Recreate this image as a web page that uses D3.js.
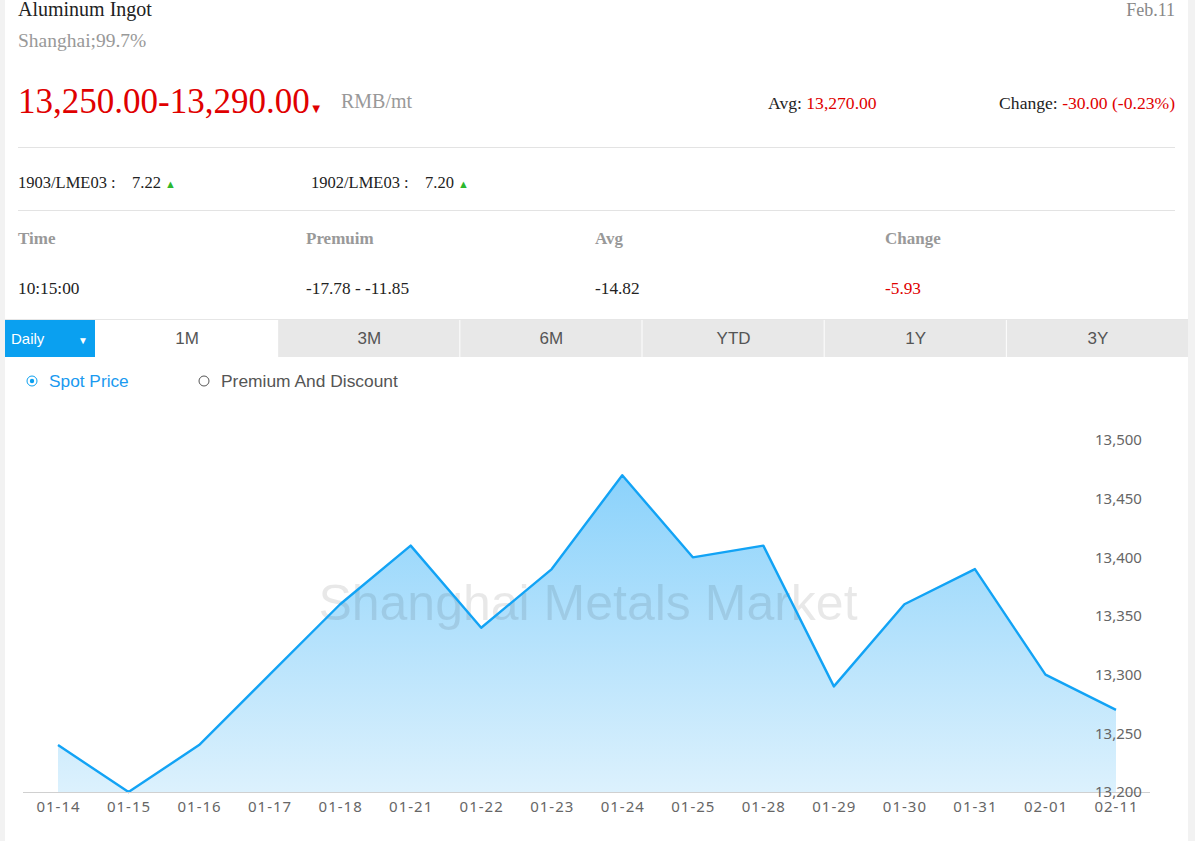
<!DOCTYPE html>
<html lang="en">
<head>
<meta charset="UTF-8">
<title>Aluminum Ingot - Spot Price</title>
<script src="https://cdn.jsdelivr.net/npm/d3@7"></script>
<style>
    html, body { margin: 0; padding: 0; background: #f2f2f2; overflow: hidden; }
    svg { display: block; }
    .serif { font-family: "Liberation Serif", "Times New Roman", serif; }
    .sans { font-family: "Liberation Sans", Arial, sans-serif; }
    .tick text { font-family: "Noto Sans", sans-serif; font-size: 15px; fill: #666; }
</style>
</head>
<body>
<svg id="page"></svg>
<script>
// DATA
const dates  = ["01-14", "01-15", "01-16", "01-17", "01-18", "01-21", "01-22", "01-23",
                "01-24", "01-25", "01-28", "01-29", "01-30", "01-31", "02-01", "02-11"];
const prices = [13240, 13200, 13240, 13300, 13360, 13410, 13340, 13390,
                13470, 13400, 13410, 13290, 13360, 13390, 13300, 13270];
const yTicks = [13200, 13250, 13300, 13350, 13400, 13450, 13500];
const tabs   = ["1M", "3M", "6M", "YTD", "1Y", "3Y"];
const lmeRows = [["1903/LME03 :", "7.22"], ["1902/LME03 :", "7.20"]];
const tableHead = ["Time", "Premuim", "Avg", "Change"];
const tableRow  = ["10:15:00", "-17.78 - -11.85", "-14.82", "-5.93"];

const W = 1195, H = 841;
const RED = "#e00000", BLUE = "#0aa0f0";

const svg = d3.select("#page").attr("width", W).attr("height", H);

// white page panel
svg.append("rect").attr("x", 5).attr("y", 0).attr("width", 1183).attr("height", H).attr("fill", "#fff");

// HEADER
svg.append("text").attr("class", "serif").attr("x", 18).attr("y", 16)
   .attr("font-size", 20).attr("fill", "#222").text("Aluminum Ingot");
svg.append("text").attr("class", "serif").attr("x", 1175).attr("y", 16).attr("text-anchor", "end")
   .attr("font-size", 18).attr("fill", "#888").text("Feb.11");
svg.append("text").attr("class", "serif").attr("x", 18).attr("y", 47)
   .attr("font-size", 19.5).attr("fill", "#999").text("Shanghai;99.7%");

const price = svg.append("text").attr("class", "serif").attr("x", 18).attr("y", 113)
   .attr("font-size", 35).attr("fill", RED);
price.append("tspan").text("13,250.00-13,290.00");
price.append("tspan").attr("font-size", 13).text("▼");
svg.append("text").attr("class", "serif").attr("x", 341).attr("y", 108)
   .attr("font-size", 20).attr("fill", "#999").text("RMB/mt");

const avg = svg.append("text").attr("class", "serif").attr("x", 768).attr("y", 109).attr("font-size", 17.6);
avg.append("tspan").attr("fill", "#222").text("Avg: ");
avg.append("tspan").attr("fill", RED).text("13,270.00");
const chg = svg.append("text").attr("class", "serif").attr("x", 1175).attr("y", 109)
   .attr("text-anchor", "end").attr("font-size", 17.6);
chg.append("tspan").attr("fill", "#222").text("Change: ");
chg.append("tspan").attr("fill", RED).text("-30.00 (-0.23%)");

svg.selectAll("line.sep").data([147, 210]).join("line").attr("class", "sep")
   .attr("x1", 18).attr("x2", 1175).attr("y1", d => d + 0.5).attr("y2", d => d + 0.5)
   .attr("stroke", "#e3e3e3");

// LME rows
const lmeX = [18, 311];
const lme = svg.selectAll("g.lme").data(lmeRows).join("g").attr("class", "lme")
   .attr("transform", (d, i) => `translate(${lmeX[i]},188)`);
lme.append("text").attr("class", "serif").attr("font-size", 16.5).attr("fill", "#222").text(d => d[0]);
const val = lme.append("text").attr("class", "serif").attr("x", 114).attr("font-size", 16.5).attr("fill", "#222");
val.append("tspan").text(d => d[1] + " ");
val.append("tspan").attr("fill", "#2db82d").attr("font-size", 11).text("▲");

// table
const colX = [18, 306, 595, 885];
svg.selectAll("text.th").data(tableHead).join("text").attr("class", "serif th")
   .attr("x", (d, i) => colX[i]).attr("y", 244).attr("font-size", 17).attr("font-weight", "bold")
   .attr("fill", "#999").text(d => d);
svg.selectAll("text.td").data(tableRow).join("text").attr("class", "serif td")
   .attr("x", (d, i) => colX[i]).attr("y", 294).attr("font-size", 17.3)
   .attr("fill", (d, i) => i === 3 ? RED : "#222").text(d => d);

// TABS
svg.append("line").attr("x1", 5).attr("x2", 1188).attr("y1", 319.5).attr("y2", 319.5).attr("stroke", "#e6e6e6");
svg.append("rect").attr("x", 5).attr("y", 320).attr("width", 90).attr("height", 37).attr("fill", BLUE);
svg.append("text").attr("class", "sans").attr("x", 11).attr("y", 344).attr("font-size", 15)
   .attr("fill", "#fff").text("Daily");
svg.append("text").attr("class", "sans").attr("x", 78).attr("y", 344).attr("font-size", 10)
   .attr("fill", "#fff").text("▼");

const tabX = d3.scaleBand().domain(tabs).range([95, 1188]);
const tabG = svg.selectAll("g.tab").data(tabs).join("g").attr("class", "tab")
   .attr("transform", d => `translate(${tabX(d)},320)`);
tabG.append("rect").attr("x", (d, i) => i === 0 ? 0 : 1).attr("width", (d, i) => tabX.bandwidth() - (i === 0 ? 0 : 1))
   .attr("height", 37).attr("fill", (d, i) => i === 0 ? "#fff" : "#e8e8e8");
tabG.append("text").attr("class", "sans").attr("x", tabX.bandwidth() / 2 + 1).attr("y", 24)
   .attr("text-anchor", "middle").attr("font-size", 17).attr("fill", "#555").text(d => d);

// radio buttons
svg.append("circle").attr("cx", 32).attr("cy", 381).attr("r", 5).attr("fill", "none").attr("stroke", BLUE);
svg.append("circle").attr("cx", 32).attr("cy", 381).attr("r", 2.2).attr("fill", BLUE);
svg.append("text").attr("class", "sans").attr("x", 49).attr("y", 387).attr("font-size", 17.3)
   .attr("fill", "#1a9af0").text("Spot Price");
svg.append("circle").attr("cx", 204).attr("cy", 381).attr("r", 5).attr("fill", "none").attr("stroke", "#555");
svg.append("text").attr("class", "sans").attr("x", 221).attr("y", 387).attr("font-size", 17.4)
   .attr("fill", "#555").text("Premium And Discount");

// CHART
const x = d3.scalePoint().domain(dates).range([58, 1116]);
const y = d3.scaleLinear().domain([13200, 13500]).range([792, 440]);

const grad = svg.append("defs").append("linearGradient").attr("id", "fillGrad")
   .attr("x1", 0).attr("y1", 0).attr("x2", 0).attr("y2", 1);
grad.append("stop").attr("offset", "0%").attr("stop-color", "#8bd2fb");
grad.append("stop").attr("offset", "100%").attr("stop-color", "#dcf1fd");

const pts = dates.map((d, i) => [d, prices[i]]);

svg.append("path").datum(pts).attr("fill", "url(#fillGrad)")
   .attr("d", d3.area().x(d => x(d[0])).y0(y(13200)).y1(d => y(d[1])));

svg.append("text").attr("class", "sans").attr("x", 588).attr("y", 620).attr("text-anchor", "middle")
   .attr("font-size", 50).attr("fill", "#000").attr("fill-opacity", 0.09).text("Shanghai Metals Market");

svg.append("path").datum(pts).attr("fill", "none").attr("stroke", "#12a3f5").attr("stroke-width", 2.4)
   .attr("stroke-linejoin", "round")
   .attr("d", d3.line().x(d => x(d[0])).y(d => y(d[1])));

// axes
svg.append("line").attr("x1", 23).attr("x2", 1150).attr("y1", y(13200) + 0.5).attr("y2", y(13200) + 0.5)
   .attr("stroke", "#d0d0d0");

svg.append("g").attr("transform", `translate(0,${y(13200)})`)
   .call(d3.axisBottom(x).tickSize(0).tickPadding(9))
   .call(g => g.select(".domain").remove())
   .selectAll("text").attr("letter-spacing", 1);

svg.append("g").attr("transform", "translate(1095,0)")
   .call(d3.axisRight(y).tickValues(yTicks).tickSize(0).tickPadding(0).tickFormat(d3.format(",")))
   .call(g => g.select(".domain").remove());
</script>
</body>
</html>
